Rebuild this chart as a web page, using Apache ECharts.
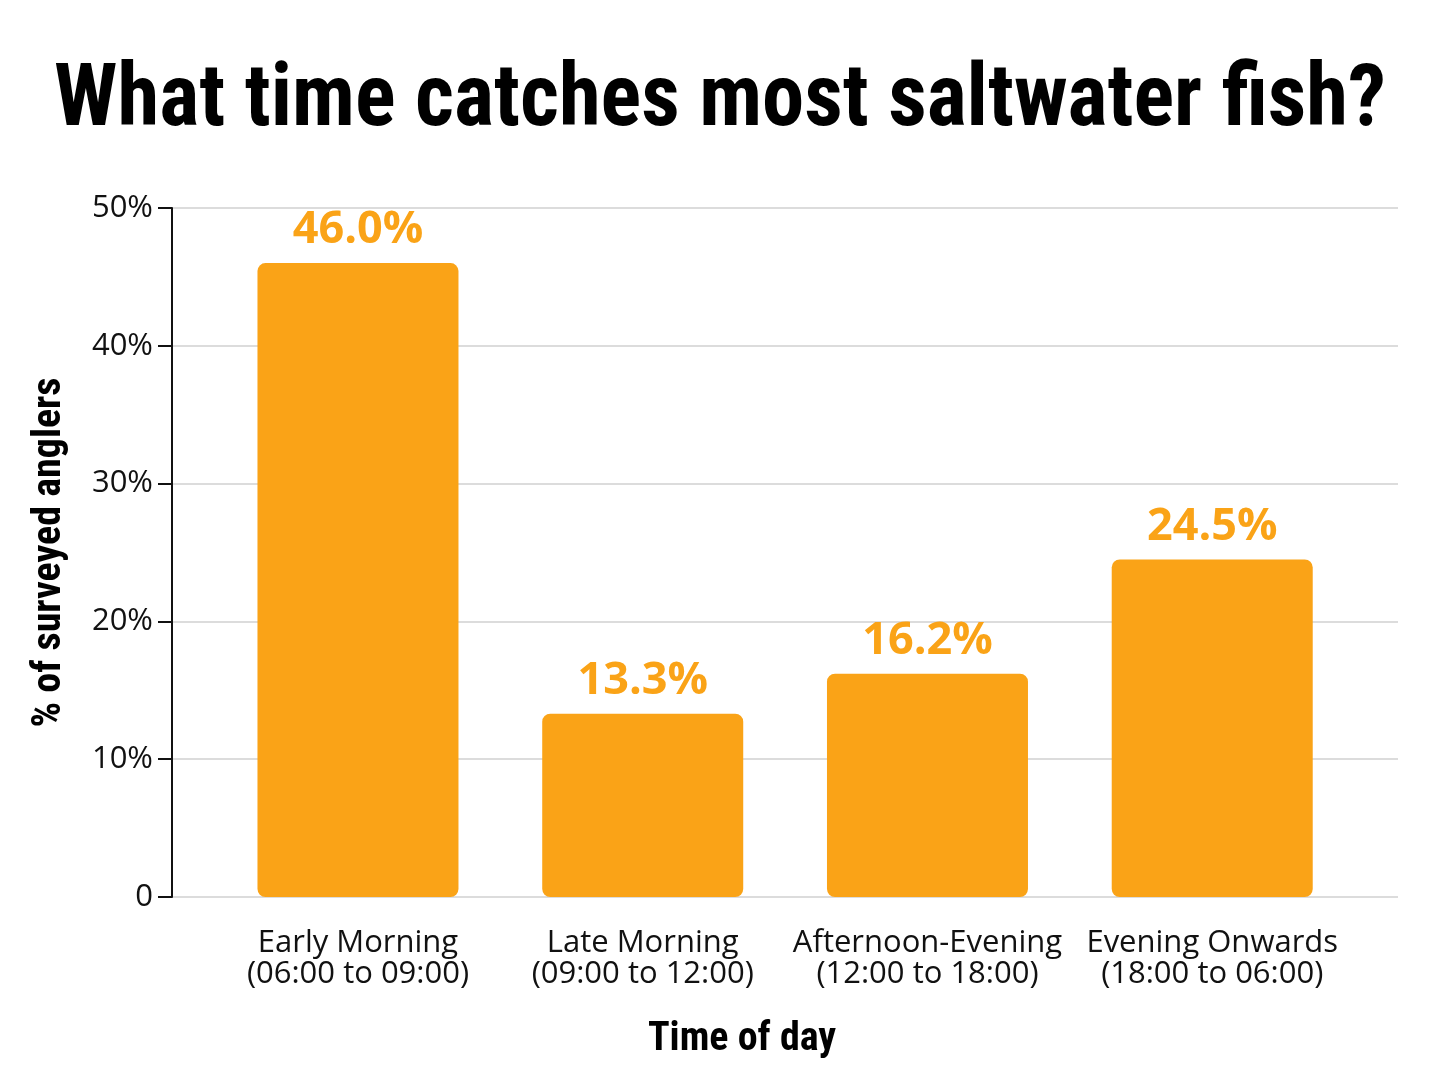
<!DOCTYPE html>
<html><head><meta charset="utf-8">
<script src="https://cdn.jsdelivr.net/npm/echarts@6/dist/echarts.min.js"></script>
<style>html,body{margin:0;padding:0;background:#fff}#c{width:1440px;height:1085px}</style>
</head><body><div id="c"></div>
<script>
const titleText = 'What time catches most saltwater fish?';
const categories = ['Early Morning\n(06:00 to 09:00)', 'Late Morning\n(09:00 to 12:00)', 'Afternoon-Evening\n(12:00 to 18:00)', 'Evening Onwards\n(18:00 to 06:00)'];
const shares = [46.0, 13.3, 16.2, 24.5];
const yTicks = [0, 10, 20, 30, 40, 50];
const yAxisTitle = '% of surveyed anglers';
const xAxisTitle = 'Time of day';

const condensed = "'Roboto Condensed','DejaVu Sans Condensed','Liberation Sans Narrow',sans-serif";
const chart = echarts.init(document.getElementById('c'), null, {renderer: 'canvas'});
chart.setOption({
  backgroundColor: '#fff',
  animation: false,
  grid: [
    {left: 172, right: 42, top: 208, bottom: 188},
    {left: 215.6, right: 85.4, top: 208, bottom: 188}
  ],
  xAxis: [
    {gridIndex: 0, type: 'category', data: ['a'], show: false},
    {gridIndex: 1, type: 'category', data: categories,
      axisLine: {show: false}, axisTick: {show: false},
      axisLabel: {interval: 0, fontFamily: "'Open Sans',sans-serif", fontSize: 31, color: '#111', lineHeight: 31, margin: 31}
    }
  ],
  yAxis: [
    {gridIndex: 0, type: 'value', min: yTicks[0], max: yTicks[yTicks.length-1], interval: 10,
      axisLine: {show: true, lineStyle: {color: '#111', width: 2}},
      axisTick: {show: true, length: 14, lineStyle: {color: '#111', width: 2}},
      axisLabel: {fontFamily: "'Open Sans',sans-serif", fontSize: 31, color: '#111', margin: 19, padding: [4, 0, 0, 0],
        formatter: v => v === 0 ? '0' : v + '%'},
      splitLine: {show: true, lineStyle: {color: '#dcdcdc', width: 2}},
      name: yAxisTitle, nameLocation: 'middle', nameRotate: 90, nameGap: 102,
      nameTextStyle: {fontFamily: condensed, fontWeight: 'bold', fontSize: 40, color: '#000'}
    },
    {gridIndex: 1, type: 'value', min: 0, max: 50, show: false}
  ],
  graphic: [{
    type: 'text', x: 720, y: 103, scaleX: 0.963,
    style: {text: titleText, font: "bold 88px " + condensed, fill: '#000', align: 'center', verticalAlign: 'middle'}
  }, {
    type: 'text', x: 742, y: 1040,
    style: {text: xAxisTitle, font: "bold 40px " + condensed, fill: '#000', align: 'center', verticalAlign: 'middle'}
  }],
  series: [{
    type: 'bar', xAxisIndex: 1, yAxisIndex: 1, data: shares,
    barWidth: 201,
    itemStyle: {color: '#FAA317', borderRadius: 8},
    label: {show: true, position: 'top', distance: 10, color: '#FAA317',
      fontFamily: "'Open Sans',sans-serif", fontWeight: 'bold', fontSize: 45,
      formatter: p => p.value.toFixed(1) + '%'}
  }]
});
</script></body></html>
